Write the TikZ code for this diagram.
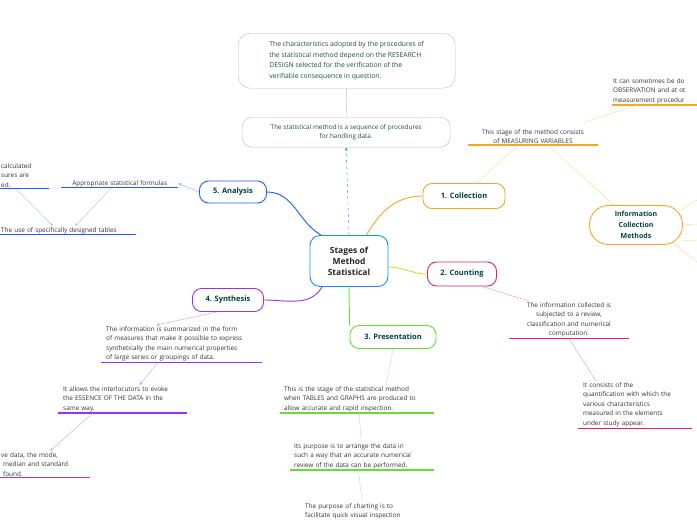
\documentclass[tikz,border=0pt]{standalone}
\usepackage{fontspec}
\setmainfont{Open Sans}
\begin{document}
\begin{tikzpicture}[x=1pt,y=-1pt,
  txt/.style={font=\fontsize{6.4}{9.6}\selectfont, text=black!80, inner sep=1pt, anchor=north west, align=left},
  ctxt/.style={txt, align=center},
  topic/.style={draw, rounded corners=9pt, line width=0.9pt, font=\fontsize{7.5}{9.5}\selectfont\bfseries, text=teal!50!black, inner sep=0pt, align=center},
  ul/.style={line width=1.1pt},
  con/.style={line width=0.4pt}]
\definecolor{cor}{HTML}{F5A623}\definecolor{ccr}{HTML}{E0245E}\definecolor{cgr}{HTML}{66DD33}
\definecolor{cpu}{HTML}{9B30F0}\definecolor{cbl}{HTML}{1A5CFF}\definecolor{cbox}{HTML}{C0B3D6}
\definecolor{ctl}{HTML}{1F4E3D}\definecolor{cyg}{HTML}{CCE033}
\useasboundingbox (0,0) rectangle (697,520);
% top boxes
\node[draw=cbox, rounded corners=12pt, minimum width=217, minimum height=55, anchor=north west, font=\fontsize{6.8}{10.5}\selectfont, text=ctl, align=left] (top) at (238,33) {The characteristics adopted by the procedures of\\the statistical method depend on the RESEARCH\\DESIGN selected for the verification of the\\verifiable consequence in question.};
\node[draw=cbox, rounded corners=10pt, minimum width=208, minimum height=30, anchor=north west, font=\fontsize{6.4}{9.6}\selectfont, text=ctl, align=center] (seq) at (242,117) {The statistical method is a sequence of procedures\\for handling data.};
\draw[cbox, con] (top.south) -- (seq.north);
% central
\node[draw=cbl!70!cyan, rounded corners=10pt, line width=0.9pt, minimum width=78, minimum height=51, font=\fontsize{8.5}{11}\selectfont\bfseries, text=black!85, align=center] (c) at (349,261) {Stages of\\Method\\Statistical};
\draw[cbl!70!cyan, dashed, -stealth, con] (c.north) -- (seq.south);
% topics
\node[topic, draw=cor, minimum width=82, minimum height=25] (col) at (464,196) {1. Collection};
\node[topic, draw=ccr, minimum width=69, minimum height=24] (cnt) at (462,274) {2. Counting};
\node[topic, draw=cgr, minimum width=86, minimum height=23] (pre) at (393,337) {3. Presentation};
\node[topic, draw=cpu, minimum width=71, minimum height=23] (syn) at (228,300) {4. Synthesis};
\node[topic, draw=cbl, minimum width=67, minimum height=22] (ana) at (233,192) {5. Analysis};
\draw[cor, line width=0.9pt] (c.north east) ++(-22,0) to[out=60,in=180] (col.west);
\draw[cyg, line width=0.9pt] ([yshift=-6]c.east) to[out=0,in=180] (cnt.west);
\draw[cgr, line width=0.9pt] (c.south) -- (pre.west|-pre.north);
\draw[cpu, line width=0.9pt] ([xshift=-27]c.south) to[out=-120,in=0] (syn.east);
\draw[cbl, line width=0.9pt] ([xshift=-28]c.north) to[out=150,in=0] (ana.east);
% collection
\node[ctxt, text width=128, anchor=south] (m1) at (533,145) {This stage of the method consists\\of MEASURING VARIABLES};
\draw[cor, ul] (m1.south west) -- (m1.south east);
\draw[cor!50, con] ([xshift=13]col.north) -- ([xshift=-15]m1.south);
\node[txt, text width=85, anchor=south west] (m2) at (612,105) {It can sometimes be do\\OBSERVATION and at ot\\measurement procedur};
\draw[cor, ul] (m2.south west) -- (m2.south east);
\draw[cor!50, con] ([xshift=-13,yshift=6]m1.north east) -- ([xshift=25]m2.south west);
\node[topic, draw=cor, rounded corners=19pt, minimum width=93, minimum height=39, font=\fontsize{7}{11}\selectfont\bfseries] (icm) at (636,225) {Information\\Collection\\Methods};
\draw[cor!50, con] ([xshift=15]m1.south) -- ([xshift=-22]icm.north);
\coordinate (r1) at (697,200);\coordinate (r2) at (697,224);\coordinate (r3) at (697,240);\coordinate (r4) at (697,262);
\draw[cor!50, con] ([xshift=-2,yshift=-5]icm.north east) -- (r1);
\draw[cor!50, con] (icm.east) -- (r2);
\draw[cor!50, con] ([xshift=-2,yshift=4]icm.south east) -- (r3);
\draw[cor!50, con] ([xshift=-10,yshift=2]icm.south east) -- (r4);
% counting
\node[ctxt, text width=118, anchor=north] (k1) at (569,301) {The information collected is\\subjected to a review,\\classification and numerical\\computation.};
\draw[ccr, ul] (k1.south west) -- (k1.south east);
\draw[ccr!50, con] ([xshift=20]cnt.south) -- ([xshift=-40]k1.north);
\node[txt, text width=112] (k2) at (578,381) {\hspace*{4pt}It consists of the\\\hspace*{4pt}quantification with which the\\\hspace*{4pt}various characteristics\\\hspace*{4pt}measured in the elements\\\hspace*{4pt}under study appear.};
\draw[ccr, ul] (k2.south west) -- (k2.south east);
\draw[ccr!50, con] (k1.south) -- ([xshift=18]k2.north west);
% presentation
\node[txt, text width=152] (p1) at (280,385) {\hspace*{3pt}This is the stage of the statistical method\\\hspace*{3pt}when TABLES and GRAPHS are produced to\\\hspace*{3pt}allow accurate and rapid inspection.};
\draw[cgr, ul] (p1.south west) -- (p1.south east);
\draw[cgr!50, con] (pre.south) -- ([xshift=29]p1.north);
\node[txt, text width=142] (p2) at (290,442) {\hspace*{3pt}Its purpose is to arrange the data in\\\hspace*{3pt}such a way that an accurate numerical\\\hspace*{3pt}review of the data can be performed.};
\draw[cgr, ul] (p2.south west) -- (p2.south east);
\draw[cgr!50, con] ([xshift=2]p1.south) -- ([xshift=-1]p2.north);
\node[txt, text width=120] (p3) at (304,502) {The purpose of charting is to\\facilitate quick visual inspection};
\draw[cgr!50, con] ([xshift=-4]p2.south) -- ([xshift=-3]p3.north);
% synthesis
\node[txt, text width=159] (s1) at (101,325) {\hspace*{4pt}The information is summarized in the form\\\hspace*{4pt}of measures that make it possible to express\\\hspace*{4pt}synthetically the main numerical properties\\\hspace*{4pt}of large series or groupings of data.};
\draw[cpu, ul] (s1.south west) -- (s1.south east);
\draw[cpu!50, -stealth, con] ([xshift=-11]syn.south) -- ([xshift=-25]s1.north);
\node[txt, text width=127] (s2) at (58,385) {\hspace*{4pt}It allows the interlocutors to evoke\\\hspace*{4pt}the ESSENCE OF THE DATA in the\\\hspace*{4pt}same way.};
\draw[cpu, ul] (s2.south west) -- (s2.south east);
\draw[cpu!50, -stealth, con] ([xshift=-24]s1.south) -- ([xshift=17]s2.north);
\node[txt, text width=88] (s3) at (0,451) {ve data, the mode,\\\hspace*{2pt}median and standard\\\hspace*{2pt}found.};
\draw[cpu, ul] (s3.south west) -- (s3.south east);
\draw[cpu!50, -stealth, con] ([xshift=-30]s2.south) -- ([xshift=5]s3.north);
% analysis
\node[txt, text width=115, align=center] (a1) at (61,179) {Appropriate statistical formulas};
\draw[cbl, ul] (a1.south west) -- (a1.south east);
\draw[cbl!50, -stealth, con] (ana.west) -- (a1.south east|-a1.east);
\node[txt, text width=47] (a2) at (0,162) {calculated\\sures are\\ed.};
\draw[cbl, ul] (a2.south west) -- (a2.south east);
\node[txt, text width=134] (a3) at (0,226) {The use of specifically designed tables};
\draw[cbl, ul] (a3.south west) -- (a3.south east);
\draw[cbl!40, -stealth, con] ([xshift=-9]a2.south) -- ([xshift=53]a3.north west);
\draw[cbl!40, -stealth, con] ([xshift=-8]a1.south) -- ([xshift=75]a3.north west);
\end{tikzpicture}
\end{document}
